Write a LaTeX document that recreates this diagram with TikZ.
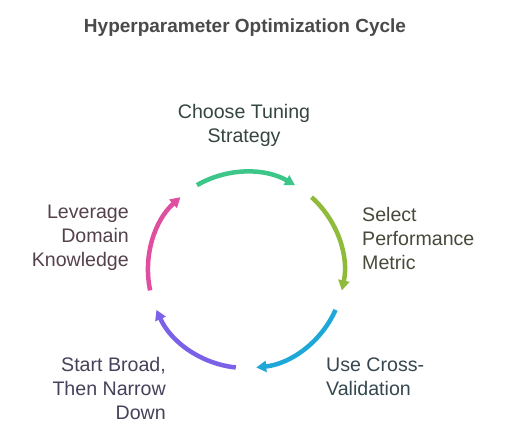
\documentclass[tikz,border=0pt]{standalone}
\usepackage{fontspec}
\setmainfont{Liberation Sans}
\usetikzlibrary{arrows.meta,calc}
\definecolor{cgreen}{HTML}{3CC68A}
\definecolor{colive}{HTML}{8FBA3A}
\definecolor{cblue}{HTML}{1EA8D8}
\definecolor{cpurple}{HTML}{7B61E8}
\definecolor{cpink}{HTML}{E04F9F}
\definecolor{tgreen}{HTML}{35463F}
\definecolor{tolive}{HTML}{474A3B}
\definecolor{tblue}{HTML}{36474F}
\definecolor{tpurple}{HTML}{45425A}
\definecolor{tpink}{HTML}{54414C}
\definecolor{ttitle}{HTML}{4A4A4A}
\tikzset{
  arcline/.style={line width=4.5pt,-{Triangle[length=10pt,width=11pt]}},
  lbl/.style={inner sep=0pt,font=\fontsize{19.6}{24}\selectfont},
  ttl/.style={inner sep=0pt,font=\fontsize{19}{22}\selectfont\bfseries,text=ttitle}
}
\begin{document}
\begin{tikzpicture}[x=1pt,y=-1pt]
\useasboundingbox[fill=white] (0,0) rectangle (516,437);
\node[ttl] (title) at (245,28) {Hyperparameter Optimization Cycle};
\coordinate (c) at (246,270);
\def\R{98}
\draw[arcline,cgreen]  ($(c)+(-120:\R)$) arc[start angle=-120,end angle=-60,radius=\R];
\draw[arcline,colive]  ($(c)+(-48:\R)$)  arc[start angle=-48,end angle=12,radius=\R];
\draw[arcline,cblue]   ($(c)+(24:\R)$)   arc[start angle=24,end angle=84,radius=\R];
\draw[arcline,cpurple] ($(c)+(96:\R)$)   arc[start angle=96,end angle=156,radius=\R];
\draw[arcline,cpink]   ($(c)+(168:\R)$)  arc[start angle=168,end angle=228,radius=\R];
\node[lbl,text=tgreen,align=center] (choose) at (244,125) {Choose Tuning\\Strategy};
\node[lbl,text=tolive,align=left,anchor=west] (select) at (362,238) {Select\\Performance\\Metric};
\node[lbl,text=tblue,align=left,anchor=west] (cross) at (326,376.5) {Use Cross-\\Validation};
\node[lbl,text=tpurple,align=right,anchor=east] (broad) at (166,388) {Start Broad,\\Then Narrow\\Down};
\node[lbl,text=tpink,align=right,anchor=east] (domain) at (129,238) {Leverage\\Domain\\Knowledge};
\end{tikzpicture}
\end{document}
